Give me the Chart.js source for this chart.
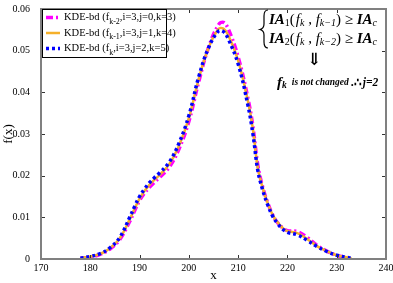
<!DOCTYPE html>
<html lang="en">
<head>
  <meta charset="UTF-8">
  <title>KDE-bd</title>
  <script src="https://cdn.jsdelivr.net/npm/chart.js"></script>
  <style>
    body { margin: 0; background: #fff; }
    #wrap { width: 393px; height: 283px; }
  </style>
</head>
<body>
  <div id="wrap"><canvas id="kdeChart"></canvas></div>
  <script>
    // x grid shared by the three curves
    const xs = [178, 180, 182, 184, 186, 188, 189, 190, 191, 192, 193, 194, 196, 198, 200, 202, 204, 206, 207, 208, 210, 212, 213, 214, 215, 216, 217, 218, 219, 220, 222, 224, 226, 228, 230, 232, 233];
    // f_{k-2}, i=3, j=0, k=3
    const kde3 = [0.0002, 0.0005, 0.0011, 0.0024, 0.0047, 0.0090, 0.0116, 0.0140, 0.0158, 0.0172, 0.0184, 0.0195, 0.0220, 0.0264, 0.0330, 0.0425, 0.0508, 0.0562, 0.0568, 0.0552, 0.0485, 0.0385, 0.0318, 0.0225, 0.0172, 0.0135, 0.0106, 0.0087, 0.0075, 0.0068, 0.0066, 0.0052, 0.0033, 0.0019, 0.0009, 0.0004, 0.0002];
    // f_{k-1}, i=3, j=1, k=4
    const kde4 = [0.0002, 0.0006, 0.0012, 0.0026, 0.0050, 0.0095, 0.0121, 0.0145, 0.0163, 0.0178, 0.0190, 0.0201, 0.0227, 0.0272, 0.0338, 0.0432, 0.0507, 0.0552, 0.0553, 0.0537, 0.0476, 0.0378, 0.0312, 0.0218, 0.0170, 0.0134, 0.0106, 0.0088, 0.0075, 0.0067, 0.0062, 0.0048, 0.0031, 0.0019, 0.0009, 0.0004, 0.0002];
    // f_k, i=3, j=2, k=5
    const kde5 = [0.0002, 0.0006, 0.0013, 0.0027, 0.0052, 0.0100, 0.0126, 0.0150, 0.0168, 0.0183, 0.0195, 0.0206, 0.0232, 0.0278, 0.0344, 0.0437, 0.0507, 0.0547, 0.0546, 0.0528, 0.0468, 0.0368, 0.0300, 0.0212, 0.0165, 0.0130, 0.0103, 0.0085, 0.0072, 0.0064, 0.0058, 0.0045, 0.0030, 0.0018, 0.0009, 0.0004, 0.0002];

    const xTicks = [170, 180, 190, 200, 210, 220, 230, 240];
    const yTicks = [0, 0.01, 0.02, 0.03, 0.04, 0.05, 0.06];

    const legendParts = [
      ['KDE-bd (f', 'k-2', ',i=3,j=0,k=3)'],
      ['KDE-bd (f', 'k-1', ',i=3,j=1,k=4)'],
      ['KDE-bd (f', 'k', ',i=3,j=2,k=5)']
    ];

    const serif = '"Liberation Serif", "DejaVu Serif", serif';

    function pts(vals) {
      return xs.map((x, i) => ({ x: x, y: vals[i] }));
    }

    const styles = [
      { color: '#ff00ff', width: 3.5, dash: [7, 3, 2, 3] },
      { color: '#f5b02a', width: 2.5, dash: [] },
      { color: '#0000ff', width: 3.5, dash: [3, 3] }
    ];

    // draw pieces of text one after another, some as subscripts
    function rich(ctx, x, y, parts) {
      parts.forEach(p => {
        ctx.font = p.font;
        ctx.fillText(p.t, x, y + (p.dy || 0));
        x += ctx.measureText(p.t).width + (p.gap || 0);
      });
      return x;
    }

    const framePlugin = {
      id: 'frame',
      afterDatasetsDraw(chart) {
        const ctx = chart.ctx;
        const a = chart.chartArea;
        const sx = chart.scales.x, sy = chart.scales.y;
        ctx.save();
        // tick marks, inward
        ctx.strokeStyle = '#333';
        ctx.lineWidth = 1;
        xTicks.forEach(t => {
          const px = Math.round(sx.getPixelForValue(t)) + 0.5;
          ctx.beginPath();
          ctx.moveTo(px, a.bottom); ctx.lineTo(px, a.bottom - 4);
          ctx.moveTo(px, a.top); ctx.lineTo(px, a.top + 4);
          ctx.stroke();
        });
        yTicks.forEach(t => {
          const py = Math.round(sy.getPixelForValue(t)) + 0.5;
          ctx.beginPath();
          ctx.moveTo(a.left, py); ctx.lineTo(a.left + 4, py);
          ctx.moveTo(a.right, py); ctx.lineTo(a.right - 4, py);
          ctx.stroke();
        });
        // gray box
        ctx.strokeStyle = '#808080';
        ctx.lineWidth = 2;
        ctx.strokeRect(a.left, a.top, a.right - a.left, a.bottom - a.top);

        // legend
        const lx = a.left + 1, ly = a.top;
        ctx.fillStyle = '#fff';
        ctx.fillRect(lx, ly, 124, 48);
        ctx.strokeStyle = '#000';
        ctx.lineWidth = 1;
        ctx.strokeRect(lx + 0.5, ly + 0.5, 124, 48);
        ctx.textBaseline = 'middle';
        ctx.fillStyle = '#000';
        legendParts.forEach((lp, i) => {
          const y = ly + 8.5 + i * 15.5;
          const s = styles[i];
          ctx.beginPath();
          ctx.strokeStyle = s.color;
          ctx.lineWidth = s.width;
          ctx.setLineDash(s.dash);
          ctx.moveTo(lx + 4, y); ctx.lineTo(lx + 18, y);
          ctx.stroke();
          ctx.setLineDash([]);
          rich(ctx, lx + 22, y, [
            { t: lp[0], font: '10.5px ' + serif },
            { t: lp[1], font: '8px ' + serif, dy: 4 },
            { t: lp[2], font: '10.5px ' + serif }
          ]);
        });

        // annotation on the right
        const bi = 'italic bold 15px ' + serif;
        const it = 'italic 15px ' + serif;
        const sb = 'italic 10px ' + serif;
        const rm = '15px ' + serif;
        // brace
        ctx.strokeStyle = '#000';
        ctx.lineWidth = 1.2;
        ctx.beginPath();
        ctx.moveTo(268, 10);
        ctx.quadraticCurveTo(264, 10, 264, 16);
        ctx.lineTo(264, 24);
        ctx.quadraticCurveTo(264, 28.5, 260, 29.5);
        ctx.quadraticCurveTo(264, 30.5, 264, 35);
        ctx.lineTo(264, 42);
        ctx.quadraticCurveTo(264, 48, 268, 48);
        ctx.stroke();
        ['1', '2'].forEach((r, i) => {
          const y = 20 + i * 19.5;
          rich(ctx, 269, y, [
            { t: 'IA', font: bi },
            { t: r, font: '10px ' + serif, dy: 3 },
            { t: '(', font: rm, gap: 1 },
            { t: 'f', font: it },
            { t: 'k', font: sb, dy: 3 },
            { t: ' , ', font: rm },
            { t: 'f', font: it },
            { t: 'k\u2212' + r, font: sb, dy: 3 },
            { t: ') \u2265 ', font: rm },
            { t: 'IA', font: bi },
            { t: 'c', font: sb, dy: 3 }
          ]);
        });
        ctx.font = 'bold 17px ' + serif;
        ctx.fillText('\u21D3', 307, 61);
        rich(ctx, 277, 83, [
          { t: 'f', font: 'italic bold 15px ' + serif },
          { t: 'k', font: 'italic bold 9.5px ' + serif, dy: 3, gap: 5 },
          { t: 'is not changed', font: 'italic bold 9.5px ' + serif, gap: 2 },
          { t: '.\u2234', font: 'bold 12px ' + serif, gap: 1 },
          { t: 'j=2', font: 'italic bold 11.5px ' + serif }
        ]);

        // axis titles
        ctx.font = '13px ' + serif;
        ctx.textAlign = 'center';
        ctx.fillText('x', (a.left + a.right) / 2, 276);
        ctx.translate(9, (a.top + a.bottom) / 2);
        ctx.rotate(-Math.PI / 2);
        ctx.fillText('f(x)', 0, 0);
        ctx.restore();
      }
    };

    new Chart(document.getElementById('kdeChart'), {
      type: 'scatter',
      data: {
        datasets: [0, 1, 2].map(i => ({
          label: legendParts[i].join(''),
          data: pts([kde3, kde4, kde5][i]),
          showLine: true,
          pointRadius: 0,
          borderColor: styles[i].color,
          borderWidth: styles[i].width,
          borderDash: styles[i].dash,
          tension: 0.4,
          order: 3 - i
        }))
      },
      options: {
        responsive: true,
        maintainAspectRatio: false,
        animation: false,
        events: [],
        layout: { padding: { top: 5, right: 7, left: 0, bottom: 0 } },
        plugins: { legend: { display: false }, tooltip: { enabled: false } },
        scales: {
          x: {
            type: 'linear', min: 170, max: 240,
            afterBuildTicks: s => { s.ticks = xTicks.map(v => ({ value: v })); },
            afterFit: s => { s.height = 24; },
            grid: { display: false },
            border: { display: false },
            ticks: { color: '#000', padding: -5, maxRotation: 0, font: { family: serif, size: 10 } }
          },
          y: {
            type: 'linear', min: 0, max: 0.06,
            afterBuildTicks: s => { s.ticks = yTicks.map(v => ({ value: v })); },
            afterFit: s => { s.width = 41; },
            grid: { display: false },
            border: { display: false },
            ticks: {
              color: '#000', padding: 3, font: { family: serif, size: 10 },
              callback: v => v === 0 ? '0' : v.toFixed(2)
            }
          }
        }
      },
      plugins: [framePlugin]
    });
  </script>
</body>
</html>
